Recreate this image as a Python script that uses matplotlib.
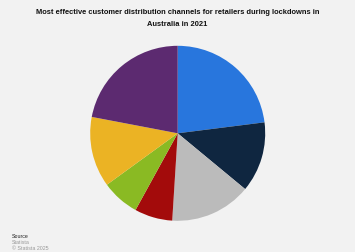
import matplotlib
matplotlib.use("Agg")
import matplotlib.pyplot as plt

labels = ["Channel 1", "Channel 2", "Channel 3", "Channel 4", "Channel 5", "Channel 6", "Channel 7"]
values = [23, 13, 15, 7, 7, 13, 22]
colors = ["#2876dd", "#0f2640", "#bbbbbb", "#a30b0b", "#8aba23", "#ebb324", "#5c2a70"]

bg = "#f2f2f2"
fig = plt.figure(figsize=(3.55, 2.53), dpi=100, facecolor=bg)
W, H = 355, 253
cx, cy, r = 177.7, 134.3, 87.5
ax = fig.add_axes([(cx - r) / W, 1 - (cy + r) / H, 2 * r / W, 2 * r / H])
ax.set_facecolor(bg)
ax.pie(values, colors=colors, startangle=90, counterclock=False,
       wedgeprops=dict(linewidth=0), radius=1)
ax.set_xlim(-1, 1)
ax.set_ylim(-1, 1)
ax.set_aspect("auto")
ax.axis("off")

fig.text(0.5, 1 - 13 / H, "Most effective customer distribution channels for retailers during lockdowns in",
         ha="center", va="center", fontsize=5.4, fontweight="bold", family="Liberation Sans", color="#111111")
fig.text(0.5, 1 - 24.5 / H, "Australia in 2021",
         ha="center", va="center", fontsize=5.4, fontweight="bold", family="Liberation Sans", color="#111111")

fig.text(12 / W, 1 - 236 / H, "Source", ha="left", va="center", fontsize=3.8, family="Liberation Sans", color="#222222")
fig.text(12 / W, 1 - 242.5 / H, "Statista", ha="left", va="center", fontsize=3.8, family="Liberation Sans", color="#999999")
fig.text(12 / W, 1 - 248.5 / H, "© Statista 2025", ha="left", va="center", fontsize=3.8, family="Liberation Sans", color="#999999")

fig.savefig("out.png", dpi=100, facecolor=bg)
